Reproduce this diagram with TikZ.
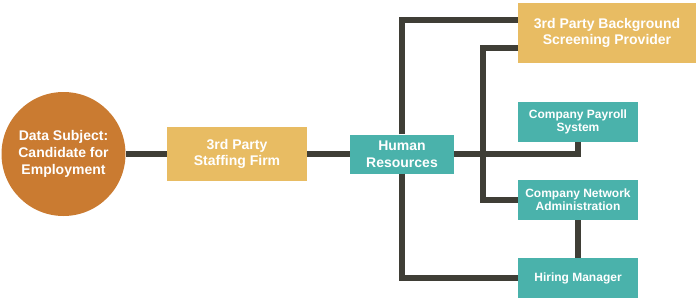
\documentclass[tikz,border=0pt]{standalone}
\usepackage{fontspec}
\setmainfont{Liberation Sans}
\definecolor{cOrange}{HTML}{CA7B31}
\definecolor{cGold}{HTML}{E8BC63}
\definecolor{cTeal}{HTML}{4AB2AB}
\definecolor{cLine}{HTML}{3F3E36}
\begin{document}
\begin{tikzpicture}[x=1pt,y=-1pt,
  conn/.style={draw=cLine,line width=6pt,line join=miter},
  bigtext/.style={text=white,font=\fontsize{14}{16.7}\selectfont\bfseries,align=center,inner sep=0pt},
  smalltext/.style={text=white,font=\fontsize{12}{13.3}\selectfont\bfseries,align=center,inner sep=0pt},
  goldbox/.style={bigtext,fill=cGold,rectangle},
  tealbig/.style={bigtext,fill=cTeal,rectangle},
  tealsmall/.style={smalltext,fill=cTeal,rectangle,minimum width=120pt,minimum height=40pt}]
\useasboundingbox (0,0) rectangle (700,300);
\node[bigtext,circle,fill=cOrange,minimum size=124pt] (subj) at (63.5,154) {Data Subject:\\Candidate for\\Employment};
\node[goldbox,minimum width=140pt,minimum height=54pt] (staff) at (237,154) {3rd Party\\Staffing Firm};
\node[tealbig,minimum width=104pt,minimum height=39pt] (hr) at (402,154) {Human\\Resources};
\node[goldbox,minimum width=178pt,minimum height=60pt] (bg) at (607,33) {3rd Party Background\\Screening Provider};
\node[tealsmall] (pay) at (578,122) {Company Payroll\\System};
\node[tealsmall] (net) at (578,200) {Company Network\\Administration};
\node[tealsmall] (hire) at (578,278) {Hiring Manager};
\coordinate (bgA) at (518,20);
\coordinate (bgB) at (518,48);
\coordinate (c2) at (483,0);
\draw[conn] (subj) -- (staff);
\draw[conn] (staff) -- (hr);
\draw[conn] (hr.north) |- (bgA);
\draw[conn] (bgB) -| (c2 |- net.west) -- (net.west);
\draw[conn] (hr.east) -| (pay.south);
\draw[conn] (net.south) -- (hire.north);
\draw[conn] (hr.south) |- (hire.west);
\end{tikzpicture}
\end{document}
